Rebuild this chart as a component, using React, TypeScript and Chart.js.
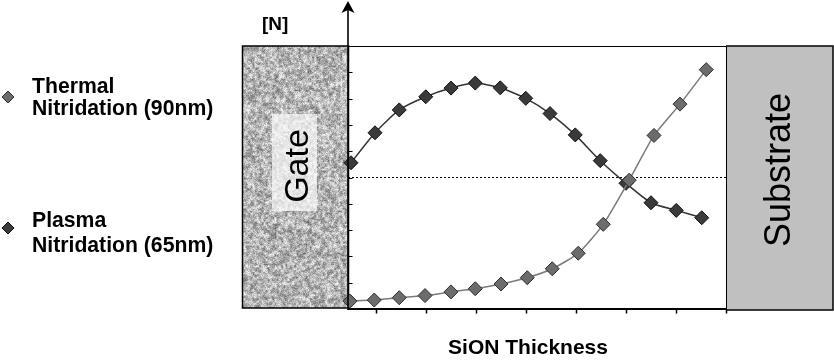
import React, { useEffect, useRef } from "react";
import { Chart, registerables } from "chart.js";

Chart.register(...registerables);

// ---- data ----
const plasmaX = [0, 0.96, 1.93, 2.99, 4.0, 4.97, 5.97, 6.99, 7.96, 8.97, 9.97, 11.0, 12.0, 13.01, 14.03];
const plasmaY = [5.56, 6.70, 7.57, 8.07, 8.40, 8.59, 8.41, 8.01, 7.43, 6.62, 5.64, 4.78, 4.04, 3.75, 3.47];
const thermalX = [-0.04, 0.93, 1.93, 2.96, 4.0, 4.97, 6.0, 7.05, 8.05, 9.09, 10.09, 11.13, 12.12, 13.16, 14.21];
const thermalY = [0.30, 0.34, 0.43, 0.51, 0.65, 0.77, 0.95, 1.19, 1.53, 2.12, 3.22, 4.90, 6.60, 7.79, 9.10];
const referenceLevel = 5;
const xMin = -0.12;
const xMax = 15;
const yMin = 0;
const yMax = 10;
const xTickValues = [1, 3, 5, 7, 9, 11, 13, 15];
const yTickValues = [1, 2, 3, 4, 5, 6, 7, 8, 9];
const thermalLabel = ["Thermal", "Nitridation (90nm)"];
const plasmaLabel = ["Plasma", "Nitridation (65nm)"];
const yAxisLabel = "[N]";
const xAxisLabel = "SiON Thickness";
const leftRegionLabel = "Gate";
const rightRegionLabel = "Substrate";

const FONT = "'Liberation Sans', Arial, sans-serif";
const thermalFill = "#6c6c6c";
const thermalBorder = "#2e2e2e";
const plasmaFill = "#3a3a3a";
const plasmaBorder = "#111111";

function hash(x: number, y: number): number {
  let n = Math.imul(x, 374761393) + Math.imul(y, 668265263);
  n = Math.imul(n ^ (n >>> 13), 1274126177);
  n = n ^ (n >>> 16);
  return (n >>> 0) / 4294967295;
}

function makeTexture(w: number, h: number): HTMLCanvasElement {
  const c = document.createElement("canvas");
  c.width = w;
  c.height = h;
  const g = c.getContext("2d")!;
  const img = g.createImageData(w, h);
  const smooth = (fx: number, fy: number) => {
    const x0 = Math.floor(fx), y0 = Math.floor(fy);
    const tx = fx - x0, ty = fy - y0;
    const a = hash(x0, y0), b = hash(x0 + 1, y0), cc = hash(x0, y0 + 1), d = hash(x0 + 1, y0 + 1);
    const top = a + (b - a) * tx;
    const bot = cc + (d - cc) * tx;
    return top + (bot - top) * ty;
  };
  for (let y = 0; y < h; y++) {
    for (let x = 0; x < w; x++) {
      const n = 0.65 * smooth(x / 2.2 + 17, y / 2.2 + 5) + 0.35 * hash(x + 1000, y + 333);
      let v = 95 + n * 170;
      v = Math.max(60, Math.min(240, v));
      const i = (y * w + x) * 4;
      img.data[i] = v;
      img.data[i + 1] = v;
      img.data[i + 2] = v;
      img.data[i + 3] = 255;
    }
  }
  g.putImageData(img, 0, 0);
  return c;
}

function diamond(ctx: CanvasRenderingContext2D, x: number, y: number, r: number, fill: string, stroke: string) {
  ctx.beginPath();
  ctx.moveTo(x - r, y);
  ctx.lineTo(x, y - r);
  ctx.lineTo(x + r, y);
  ctx.lineTo(x, y + r);
  ctx.closePath();
  ctx.fillStyle = fill;
  ctx.fill();
  ctx.lineWidth = 1;
  ctx.strokeStyle = stroke;
  ctx.stroke();
}

const decorPlugin = {
  id: "decor",
  beforeDraw(chart: any) {
    const ctx: CanvasRenderingContext2D = chart.ctx;
    const a = chart.chartArea;
    ctx.save();
    ctx.fillStyle = "#ffffff";
    ctx.fillRect(0, 0, chart.width, chart.height);

    // Gate region
    const gL = 242, gT = a.top, gB = a.bottom - 1;
    const tex = makeTexture(a.left - gL, gB - gT);
    ctx.drawImage(tex, gL, gT);
    ctx.fillStyle = "rgba(255,255,255,0.68)";
    ctx.fillRect(272, 114, 45, 97);
    ctx.strokeStyle = "#000";
    ctx.lineWidth = 1.5;
    ctx.strokeRect(gL + 0.5, gT, a.left - gL, gB - gT);

    ctx.save();
    ctx.translate(308, 166);
    ctx.rotate(-Math.PI / 2);
    ctx.fillStyle = "#000";
    ctx.font = `34px ${FONT}`;
    ctx.textAlign = "center";
    ctx.textBaseline = "alphabetic";
    ctx.fillText(leftRegionLabel, 0, 0);
    ctx.restore();

    // Substrate region
    const sR = 833;
    ctx.fillStyle = "#c0c0c0";
    ctx.fillRect(a.right, a.top, sR - a.right, a.bottom + 1 - a.top);
    ctx.strokeStyle = "#000";
    ctx.lineWidth = 1.5;
    ctx.beginPath();
    ctx.moveTo(a.right, a.top);
    ctx.lineTo(sR, a.top);
    ctx.lineTo(sR, a.bottom + 1);
    ctx.lineTo(a.right, a.bottom + 1);
    ctx.stroke();

    ctx.save();
    ctx.translate(790, 170);
    ctx.rotate(-Math.PI / 2);
    ctx.fillStyle = "#000";
    ctx.font = `36px ${FONT}`;
    ctx.textAlign = "center";
    ctx.textBaseline = "alphabetic";
    ctx.fillText(rightRegionLabel, 0, 0);
    ctx.restore();

    // plot frame (top and right)
    ctx.strokeStyle = "#000";
    ctx.lineWidth = 1;
    ctx.beginPath();
    ctx.moveTo(a.left, a.top + 0.5);
    ctx.lineTo(a.right, a.top + 0.5);
    ctx.moveTo(a.right + 0.5, a.top);
    ctx.lineTo(a.right + 0.5, a.bottom);
    ctx.stroke();
    ctx.restore();
  },
  afterDatasetsDraw(chart: any) {
    const ctx: CanvasRenderingContext2D = chart.ctx;
    const a = chart.chartArea;
    const xs = chart.scales.x;
    const ys = chart.scales.y;
    ctx.save();
    ctx.strokeStyle = "#000";

    // x axis line
    ctx.lineWidth = 2;
    ctx.beginPath();
    ctx.moveTo(a.left, a.bottom);
    ctx.lineTo(a.right + 1, a.bottom);
    ctx.stroke();

    // x ticks (below)
    ctx.lineWidth = 1.5;
    ctx.beginPath();
    xTickValues.forEach((v) => {
      const px = Math.round(xs.getPixelForValue(v)) + 0.5;
      ctx.moveTo(px, a.bottom);
      ctx.lineTo(px, a.bottom + 4.5);
    });
    ctx.stroke();

    // y ticks (inside)
    ctx.lineWidth = 1;
    ctx.beginPath();
    yTickValues.forEach((v) => {
      const py = Math.round(ys.getPixelForValue(v)) + 0.5;
      ctx.moveTo(a.left, py);
      ctx.lineTo(a.left + 4.5, py);
    });
    ctx.stroke();

    // y axis with arrow
    ctx.lineWidth = 1.6;
    ctx.beginPath();
    ctx.moveTo(a.left, a.bottom + 1);
    ctx.lineTo(a.left, 8);
    ctx.stroke();
    ctx.fillStyle = "#000";
    ctx.beginPath();
    ctx.moveTo(a.left, 1);
    ctx.lineTo(a.left - 6.5, 13);
    ctx.lineTo(a.left, 10);
    ctx.lineTo(a.left + 6.5, 13);
    ctx.closePath();
    ctx.fill();

    // axis labels
    ctx.fillStyle = "#000";
    ctx.font = `bold 19px ${FONT}`;
    ctx.textAlign = "left";
    ctx.textBaseline = "alphabetic";
    ctx.fillText(yAxisLabel, 262, 30);

    ctx.font = `bold 21px ${FONT}`;
    ctx.textAlign = "center";
    ctx.fillText(xAxisLabel, 528, 354);

    // legend
    ctx.textAlign = "left";
    ctx.font = `bold 21.2px ${FONT}`;
    diamond(ctx, 8, 97, 6, thermalFill, thermalBorder);
    ctx.fillStyle = "#000";
    ctx.fillText(thermalLabel[0], 32, 93);
    ctx.fillText(thermalLabel[1], 32, 115);
    diamond(ctx, 8, 228, 6, plasmaFill, plasmaBorder);
    ctx.fillStyle = "#000";
    ctx.fillText(plasmaLabel[0], 32, 227);
    ctx.fillText(plasmaLabel[1], 32, 252);
    ctx.restore();
  },
};

export default function App() {
  const ref = useRef<HTMLCanvasElement | null>(null);
  useEffect(() => {
    if (!ref.current) return;
    const chart = new Chart(ref.current, {
      type: "line",
      data: {
        datasets: [
          {
            label: thermalLabel.join(" "),
            data: thermalX.map((x, i) => ({ x, y: thermalY[i] })),
            borderColor: "#7a7a7a",
            borderWidth: 1.5,
            backgroundColor: thermalFill,
            pointBackgroundColor: thermalFill,
            pointBorderColor: thermalBorder,
            pointBorderWidth: 1,
            pointStyle: "rectRot",
            pointRadius: 7,
            tension: 0.2,
            clip: 12,
          } as any,
          {
            label: plasmaLabel.join(" "),
            data: plasmaX.map((x, i) => ({ x, y: plasmaY[i] })),
            borderColor: "#333333",
            borderWidth: 1.5,
            backgroundColor: plasmaFill,
            pointBackgroundColor: plasmaFill,
            pointBorderColor: plasmaBorder,
            pointBorderWidth: 1,
            pointStyle: "rectRot",
            pointRadius: 7,
            tension: 0.2,
            clip: 12,
          } as any,
          {
            label: "reference",
            data: [
              { x: xMin, y: referenceLevel },
              { x: xMax, y: referenceLevel },
            ],
            borderColor: "#000000",
            borderWidth: 1,
            borderDash: [2, 2],
            pointRadius: 0,
            tension: 0,
          } as any,
        ],
      },
      options: {
        animation: false,
        responsive: false,
        devicePixelRatio: 1,
        layout: { padding: { left: 348, top: 46, right: 108, bottom: 51 } },
        plugins: { legend: { display: false }, tooltip: { enabled: false }, title: { display: false } },
        scales: {
          x: { type: "linear", min: xMin, max: xMax, display: false },
          y: { type: "linear", min: yMin, max: yMax, display: false },
        },
      },
      plugins: [decorPlugin],
    });
    return () => chart.destroy();
  }, []);
  return (
    <div style={{ position: "absolute", left: 0, top: 0, width: 834, height: 360 }}>
      <canvas ref={ref} width={834} height={360} style={{ width: 834, height: 360, display: "block" }} />
    </div>
  );
}
